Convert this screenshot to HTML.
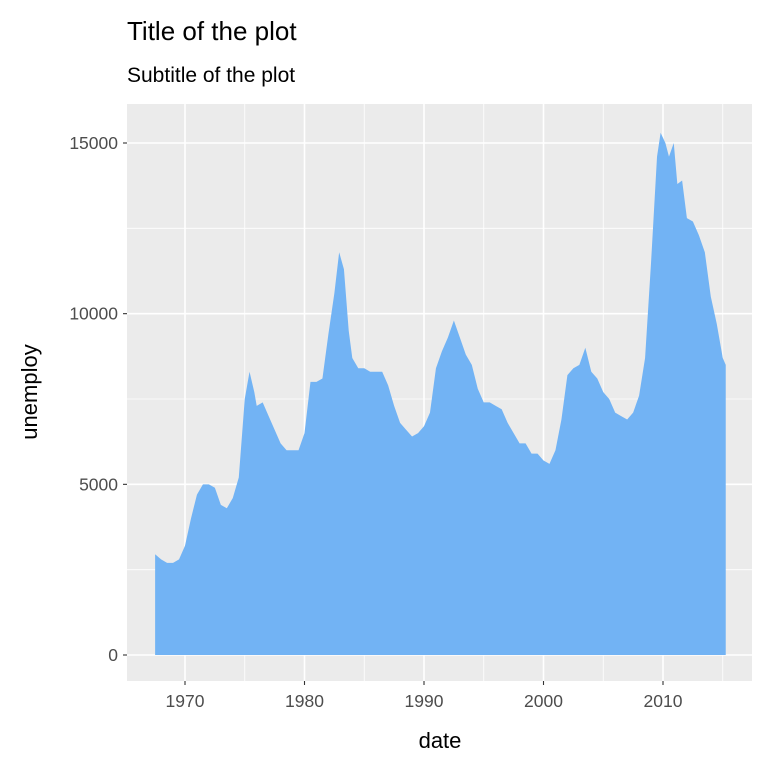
<!DOCTYPE html>
<html><head><meta charset="utf-8"><style>
body{margin:0;background:#fff;font-family:"Liberation Sans",Arial,sans-serif}
</style></head><body>
<svg id="chart" width="768" height="768" font-family="Liberation Sans, Arial, sans-serif">
<rect width="768" height="768" fill="#fff"/>
<text x="127" y="40" font-size="26" fill="#000">Title of the plot</text>
<text x="127" y="82" font-size="21" fill="#000">Subtitle of the plot</text>
<rect x="127" y="104" width="625" height="577" fill="#ebebeb"/>
<g id="grid"></g>
<path id="area" fill="#72b3f4"/>
<g id="axes"></g>
<text x="440" y="748" font-size="22" text-anchor="middle" fill="#000">date</text>
<text transform="translate(37,392) rotate(-90)" font-size="22" text-anchor="middle" fill="#000">unemploy</text>
</svg>
<script>
const dates=[1967.5,1968,1968.5,1969,1969.5,1970,1970.5,1971,1971.5,1972,1972.5,1973,1973.5,1974,1974.5,1975,1975.4,1975.8,1976,1976.5,1977,1977.5,1978,1978.5,1979,1979.5,1980,1980.5,1981,1981.5,1982,1982.5,1982.9,1983.3,1983.7,1984,1984.5,1985,1985.5,1986,1986.5,1987,1987.5,1988,1988.5,1989,1989.5,1990,1990.5,1991,1991.5,1992,1992.5,1993,1993.5,1994,1994.5,1995,1995.5,1996,1996.5,1997,1997.5,1998,1998.5,1999,1999.5,2000,2000.5,2001,2001.5,2002,2002.5,2003,2003.5,2004,2004.5,2005,2005.5,2006,2006.5,2007,2007.5,2008,2008.5,2009,2009.5,2009.8,2010.2,2010.5,2010.9,2011.2,2011.6,2012,2012.5,2013,2013.5,2014,2014.5,2015,2015.25];
const unemploy=[2950,2800,2700,2700,2800,3200,4000,4700,5000,5000,4900,4400,4300,4600,5200,7500,8300,7700,7300,7400,7000,6600,6200,6000,6000,6000,6500,8000,8000,8100,9400,10600,11800,11300,9500,8700,8400,8400,8300,8300,8300,7900,7300,6800,6600,6400,6500,6700,7100,8400,8900,9300,9800,9300,8800,8500,7800,7400,7400,7300,7200,6800,6500,6200,6200,5900,5900,5700,5600,6000,6900,8200,8400,8500,9000,8300,8100,7700,7500,7100,7000,6900,7100,7600,8700,11500,14600,15300,15000,14600,15000,13800,13900,12800,12700,12300,11800,10500,9700,8700,8500];
const xTicks=[1970,1980,1990,2000,2010];
const yTicks=[0,5000,10000,15000];
const X=d=>185+(d-1970)*11.95;
const Y=v=>655-v*(512/15000);
const ns="http://www.w3.org/2000/svg";
const grid=document.getElementById('grid'),axes=document.getElementById('axes');
function line(x1,y1,x2,y2,w,name){const l=document.createElementNS(ns,'line');
l.setAttribute('x1',x1);l.setAttribute('y1',y1);l.setAttribute('x2',x2);l.setAttribute('y2',y2);
l.setAttribute('stroke','#fff');l.setAttribute('stroke-width',w);


grid.appendChild(l);}
[1965,1975,1985,1995,2005,2015].forEach(d=>line(X(d),104,X(d),681,0.8,'x-minor-grid'));
[2500,7500,12500].forEach(v=>line(127,Y(v),752,Y(v),0.8,'y-minor-grid'));
xTicks.forEach(d=>line(X(d),104,X(d),681,1.6,'x-major-grid'));
yTicks.forEach(v=>line(127,Y(v),752,Y(v),1.6,'y-major-grid'));
let p='M'+X(dates[0])+','+Y(0);
dates.forEach((d,i)=>{p+='L'+X(d)+','+Y(unemploy[i]);});
p+='L'+X(dates[dates.length-1])+','+Y(0)+'Z';
document.getElementById('area').setAttribute('d',p);
function txt(x,y,s,anchor,name){const t=document.createElementNS(ns,'text');
t.setAttribute('x',x);t.setAttribute('y',y);t.setAttribute('font-size','17.5');t.setAttribute('fill','#4d4d4d');
t.setAttribute('text-anchor',anchor);t.textContent=s;


axes.appendChild(t);}
function tick(x1,y1,x2,y2){const l=document.createElementNS(ns,'line');
l.setAttribute('x1',x1);l.setAttribute('y1',y1);l.setAttribute('x2',x2);l.setAttribute('y2',y2);
l.setAttribute('stroke','#333');l.setAttribute('stroke-width',1.1);


axes.appendChild(l);}
xTicks.forEach(d=>{tick(X(d),681,X(d),685);txt(X(d),707,d,'middle','x-tick-label');});
yTicks.forEach(v=>{tick(123,Y(v),127,Y(v));txt(118,Y(v)+6,v,'end','y-tick-label');});
</script>
</body></html>
